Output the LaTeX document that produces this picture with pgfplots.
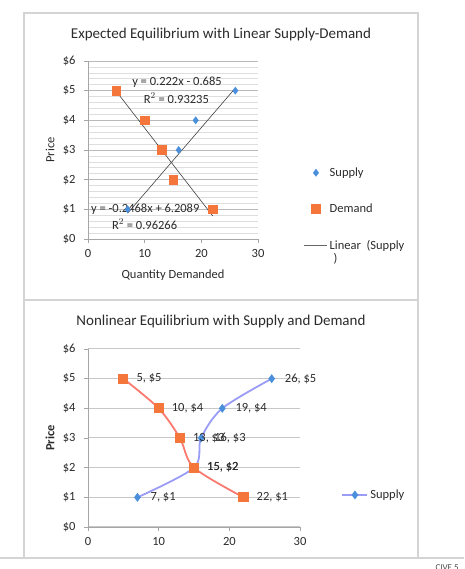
\documentclass[border=0pt]{standalone}
\usepackage{pgfplots}
\pgfplotsset{compat=1.18}
\usepackage{fontspec}
\setmainfont{Carlito}
\definecolor{sup}{HTML}{4A8FDB}
\definecolor{dem}{HTML}{F5763A}
\definecolor{supl}{HTML}{9A9CF5}
\definecolor{deml}{HTML}{FA7A70}
\definecolor{framec}{HTML}{D4D4D4}
\definecolor{txt}{HTML}{2B2B2B}
\newcommand{\fs}{\fontsize{12.5}{14}\selectfont}
\pgfplotsset{
  common/.style={
    scale only axis, anchor=south west, clip=false,
    xmin=0, xmax=30, ymin=0, ymax=6,
    xtick={0,10,20,30}, ytick={0,1,2,3,4,5,6},
    yticklabels={\$0,\$1,\$2,\$3,\$4,\$5,\$6},
    axis x line*=bottom, axis y line*=left,
    axis line style={draw=black!35, line width=0.8pt, -},
    every outer x axis line/.append style={-},
    every outer y axis line/.append style={-},
    tick style={draw=black!35, line width=0.8pt},
    tick align=outside, major tick length=4pt, minor tick length=0pt,
    ticklabel style={font=\fs, text=txt},
    yticklabel style={xshift=-5pt},
    xticklabel style={yshift=-3pt},
    /pgf/number format/assume math mode=true,
  },
  suplegend/.style={legend image code/.code={\draw[mark repeat=2, mark phase=2, ##1] plot coordinates {(0pt,0pt) (12.5pt,0pt) (25pt,0pt)};}},
}
\begin{document}
\begin{tikzpicture}[x=1pt,y=1pt]
\path[use as bounding box] (0,0) rectangle (464,569);
% frames
\draw[framec, line width=1.2pt] (24,11) -- (24,556) -- (418,556) -- (418,11);
\draw[framec, line width=1.4pt] (24,269) -- (418,269);
\draw[framec, line width=1.2pt] (0,11) -- (464,11);
\node[anchor=base west, font=\fontsize{9}{10}\selectfont, text=black!70] at (432,-1.5) {CIVE 5};

% ---------- top chart ----------
\node[font=\fontsize{15}{17}\selectfont, text=txt] at (221,534) {Expected Equilibrium with Linear Supply-Demand};
\node[font=\fs, text=txt] at (173,294) {Quantity Demanded};
\node[font=\fs, text=txt, rotate=90] at (50,419) {Price};
\begin{axis}[common, at={(88pt,330pt)}, width=170pt, height=178pt,
  minor y tick num=4, ymajorgrids, yminorgrids,
  major grid style={draw=black!27, line width=0.6pt},
  minor grid style={draw=black!13, line width=0.6pt},
  legend style={at={(1.27,0.413)}, anchor=north west, draw=none, fill=none,
    font=\fs, text=txt, row sep=22pt, inner sep=0pt},
  legend cell align=left,
]
\addplot[black!75, line width=0.6pt, forget plot] coordinates {(7,0.869) (26,5.087)};
\addplot[black!75, line width=0.6pt, forget plot] coordinates {(5,4.975) (22,0.779)};
\addplot[only marks, mark=diamond*, mark size=3.6pt, color=sup] coordinates {(7,1) (15,2) (16,3) (19,4) (26,5)};
\addlegendentry{Supply}
\addplot[only marks, mark=square*, mark size=4.3pt, color=dem] coordinates {(5,5) (10,4) (13,3) (15,2) (22,1)};
\addlegendentry{Demand}
\addlegendimage{legend image code/.code={\draw[black!60, line width=0.6pt] (-3pt,0pt) -- (20pt,0pt);}}
\addlegendentry{Linear\ \ (Supply}
\node[font=\fs, text=txt] at (axis cs:15.7,5.29) {y = 0.222x - 0.685};
\node[font=\fs, text=txt] at (axis cs:15.6,4.75) {R$^2$ = 0.93235};
\node[font=\fs, text=txt] at (axis cs:10.1,1.01) {y = -0.2468x + 6.2089};
\node[font=\fs, text=txt] at (axis cs:10.0,0.50) {R$^2$ = 0.96266};
\end{axis}
\node[font=\fs, text=txt, anchor=base west] at (330,306) {)};

% ---------- bottom chart ----------
\node[font=\fontsize{15}{17}\selectfont, text=txt] at (221,247) {Nonlinear Equilibrium with Supply and Demand};
\node[font=\fs\bfseries, text=txt, rotate=90] at (50,131) {Price};
\begin{axis}[common, at={(88pt,42pt)}, width=212pt, height=178pt,
  ymajorgrids,
  major grid style={draw=black!22, line width=1pt},
  legend style={at={(1.195,0.18)}, anchor=west, draw=none, fill=none,
    font=\fs, text=txt, inner sep=0pt},
  nodes near coords, point meta=explicit symbolic,
  every node near coord/.append style={anchor=west, xshift=9pt, font=\fs, text=txt},
]
\addplot[supl, line width=1.8pt, smooth, mark=diamond*, mark size=3pt,
  mark options={fill=sup, draw=sup}, suplegend]
  table[meta=lab] {
x y lab
7 1 {7, \$1}
15 2 {15, \$2}
16 3 {16, \$3}
19 4 {19, \$4}
26 5 {26, \$5}
};
\addlegendentry{Supply}
\addplot[deml, line width=1.8pt, smooth, mark=square*, mark size=4.2pt,
  mark options={fill=dem, draw=dem}]
  table[meta=lab] {
x y lab
5 5 {5, \$5}
10 4 {10, \$4}
13 3 {13, \$3}
15 2 {15, \$2}
22 1 {22, \$1}
};
\end{axis}
\end{tikzpicture}
\end{document}
